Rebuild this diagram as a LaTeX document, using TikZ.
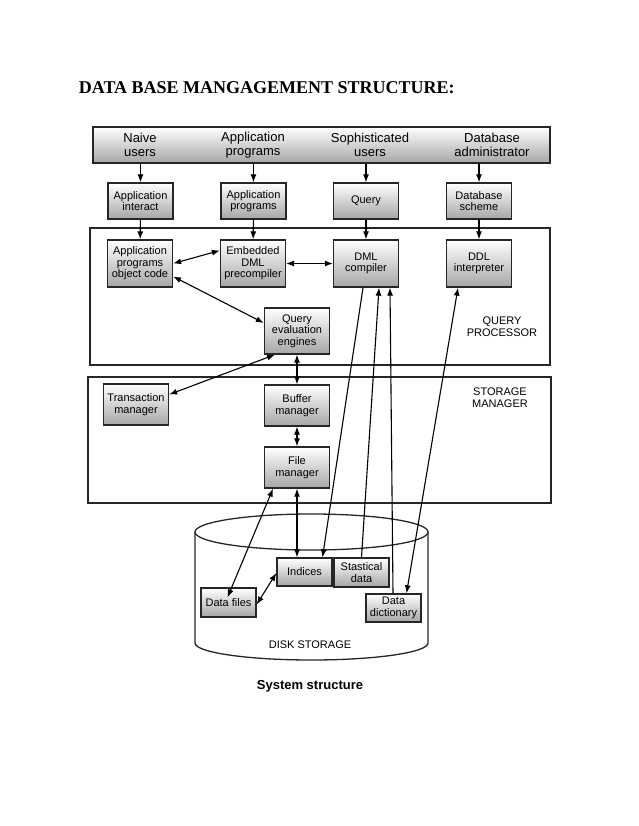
\documentclass[tikz,border=0pt]{standalone}
\usepackage{fontspec}
\setmainfont{Liberation Sans}
\newfontfamily\titlefont{Liberation Serif}
\usetikzlibrary{arrows.meta}
\begin{document}
\begin{tikzpicture}[x=1pt,y=-1pt,>={Latex[length=8pt,width=6pt]},line width=1.1pt]
    \tikzstyle{box} = [shape=rectangle, draw=black!85, line width=1.3pt, top color=white, bottom color=black!35, align=center, font=\fontsize{11}{11.5}\selectfont, inner sep=1pt, minimum width=65pt]
    \tikzstyle{area} = [draw=black!85, line width=1.3pt]
    \tikzstyle{lbl} = [align=center, font=\fontsize{13}{14}\selectfont]
    \useasboundingbox (0,0) rectangle (638,826);
    \node [anchor=west, font=\titlefont\bfseries\fontsize{18}{20}\selectfont] (title) at (75,88) {DATA BASE MANGAGEMENT STRUCTURE:};

    % users bar
    \node (bar) [box, minimum width=457pt, minimum height=36pt] at (321.5,145) {};
    \node (naive) [lbl] at (140,145) {Naive\\users};
    \node (apps)  [lbl] at (253,145) {Application\\programs};
    \node (soph)  [lbl] at (370,145) {Sophisticated\\users};
    \node (dba)   [lbl] at (492,145) {Database\\administrator};

    % query processor
    \draw [area] (90,228) rectangle (550,365);
    \node (qp) [lbl, font=\fontsize{11}{12}\selectfont] at (502,327) {QUERY\\PROCESSOR};
    \node (ai)  [box, minimum height=36pt] at (140.5,201) {Application\\interact};
    \node (ap)  [box, minimum height=36pt] at (253.5,201) {Application\\programs};
    \node (qry) [box, minimum height=36pt] at (366,201) {Query};
    \node (ds)  [box, minimum height=36pt] at (479,201) {Database\\scheme};
    \node (obj) [box, minimum height=47pt] at (140,263.5) {Application\\programs\\object code};
    \node (emb) [box, minimum height=47pt] at (253,263.5) {Embedded\\DML\\precompiler};
    \node (dml) [box, minimum height=47pt] at (366,263.5) {DML\\compiler};
    \node (ddl) [box, minimum height=47pt] at (479,263.5) {DDL\\interpreter};
    \node (qe)  [box, minimum height=46pt] at (297,331) {Query\\evaluation\\engines};

    % storage manager
    \draw [area] (88,377) rectangle (551,503);
    \node (sm) [lbl, font=\fontsize{11}{12}\selectfont] at (500,398) {STORAGE\\MANAGER};
    \node (tm) [box, minimum height=41pt] at (136,404.5) {Transaction\\manager};
    \node (bm) [box, minimum height=41pt] at (297,405.5) {Buffer\\manager};
    \node (fm) [box, minimum height=41pt] at (297,467.5) {File\\manager};

    % disk storage
    \draw [area, fill=white] (195,532) -- (195,643) arc[start angle=180, end angle=0, x radius=116.5, y radius=17] -- (428,532);
    \draw [area] (311.5,532) ellipse [x radius=116.5, y radius=18];
    \node (disk) [font=\fontsize{11}{12}\selectfont] at (310,645) {DISK STORAGE};
    \node (idx) [box, minimum width=55pt, minimum height=28pt] at (304.5,572) {Indices};
    \node (sd)  [box, minimum width=55pt, minimum height=29pt] at (361.5,572.5) {Stastical\\data};
    \node (df)  [box, minimum width=55pt, minimum height=29pt] at (228.5,602.5) {Data files};
    \node (dd)  [box, minimum width=55pt, minimum height=28pt] at (393.5,608) {Data\\dictionary};
    \node (cap) [font=\bfseries\fontsize{13}{14}\selectfont] at (310,686) {System structure};

    \draw [->] (bar.south -| ai) -- (ai);
    \draw [->] (bar.south -| ap) -- (ap);
    \draw [->] (bar.south -| qry) -- (qry);
    \draw [->] (bar.south -| ds) -- (ds);
    \draw [->] (ai) -- (obj);
    \draw [->] (ap) -- (emb);
    \draw [->] (qry) -- (dml);
    \draw [->] (ds) -- (ddl);

    \draw [<->] (obj.east) -- ([yshift=13pt]emb.west);
    \draw [<->] (emb) -- (dml);
    \draw [<->] ([yshift=-13pt]obj.east) -- ([yshift=8pt]qe.west);
    \draw [<->] ([xshift=-22pt]qe.south) -- ([yshift=10pt]tm.east);
    \draw [<->] (qe) -- (bm);
    \draw [<->] (bm) -- (fm);
    \draw [<->] ([xshift=-24pt]fm.south) -- ([xshift=-1pt,yshift=-10pt]df.north);
    \draw [<->] (fm) -- (idx.north -| fm);
    \draw [<->] ([yshift=-1pt]idx.west) -- ([yshift=-2pt]df.east);
    \draw [->] ([xshift=-3pt]dml.south) -- ([xshift=18pt]idx.north);
    \draw [->] (sd.north) -- ([xshift=13pt]dml.south);
    \draw [->] ([xshift=-0.5pt]dd.north) -- ([xshift=24pt]dml.south);
    \draw [<->] ([xshift=-21pt]ddl.south) -- ([xshift=13pt]dd.north);
\end{tikzpicture}
\end{document}
